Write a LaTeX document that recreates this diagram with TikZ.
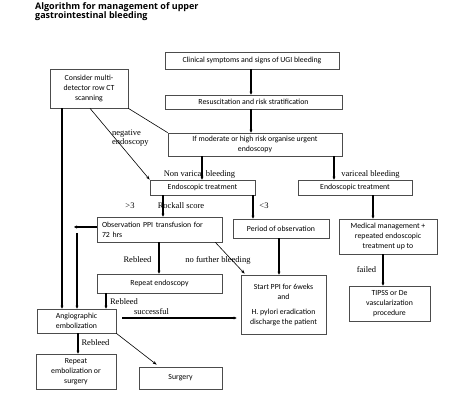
\documentclass[tikz,border=0pt]{standalone}
\usepackage{fontspec}
\setmainfont{Liberation Serif}
\newfontfamily\boxfont{Carlito}
\newfontfamily\headfont{Open Sans}
\usetikzlibrary{arrows.meta}
\tikzset{
    mybox/.style = {draw=black!70, line width=0.7pt, align=center, inner sep=0pt, font=\boxfont\fontsize{7.8}{10}\selectfont},
    myboxl/.style = {mybox, align=left},
    mylabel/.style = {inner sep=0pt, font=\fontsize{8.5}{9.5}\selectfont},
    edgek/.style = {-{Stealth[length=3pt,width=3pt]}, line width=1.6pt, black},
    edgen/.style = {-{Stealth[length=4pt,width=3pt]}, line width=0.6pt, black},
    edgep/.style = {-, line width=0.6pt, black},
}

\begin{document}
\begin{tikzpicture}[x=1pt,y=-1pt]
\path[fill=white] (0,0) rectangle (474,406);
\useasboundingbox (0,0) rectangle (474,406);

\node[anchor=north west, align=left, inner sep=0pt, font=\headfont\bfseries\fontsize{9}{9.2}\selectfont] at (35,2.5) (title) {Algorithm for management of upper\\gastrointestinal bleeding};

\node[mybox, minimum width=174pt, minimum height=17pt] at (252.0,  60.5) (clin) {Clinical symptoms and signs of UGI bleeding};
\node[mybox, minimum width=78pt,  minimum height=39pt] at ( 89.0,  88.5) (cons) {Consider multi-\\detector row CT\\scanning};
\node[mybox, minimum width=177pt, minimum height=14pt] at (253.5, 102.0) (resus) {Resuscitation and risk stratification};
\node[mybox, minimum width=174pt, minimum height=23pt] at (255.0, 144.5) (mod) {If moderate or high risk organise urgent\\endoscopy};
\node[mybox, minimum width=105pt, minimum height=15pt] at (202.5, 187.5) (endoL) {Endoscopic treatment};
\node[mybox, minimum width=114pt, minimum height=15pt] at (355.0, 187.5) (endoR) {Endoscopic treatment};
\node[myboxl, minimum width=125pt, minimum height=25pt, text width=115pt] at (159.5, 229.5) (obs) {Observation PPI transfusion for\\72 hrs};
\node[mybox, minimum width=96pt,  minimum height=19pt] at (281.0, 228.5) (period) {Period of observation};
\node[mybox, minimum width=98pt,  minimum height=35pt] at (388.0, 236.5) (med) {Medical management +\\repeated endoscopic\\treatment up to};
\node[mybox, minimum width=125pt, minimum height=19pt] at (159.5, 283.5) (rep) {Repeat endoscopy};
\node[mybox, minimum width=85pt,  minimum height=59pt] at (283.5, 304.5) (ppi) {Start PPI for 6weks\\and\\[5pt]H. pylori eradication\\discharge the patient};
\node[mybox, minimum width=81pt,  minimum height=35pt] at (389.5, 303.5) (tipss) {TIPSS or De\\vascularization\\procedure};
\node[mybox, minimum width=79pt,  minimum height=24pt] at ( 76.5, 321.0) (angio) {Angiographic\\embolization};
\node[mybox, minimum width=80pt,  minimum height=35pt] at ( 76.0, 371.5) (repemb) {Repeat\\embolization or\\surgery};
\node[mybox, minimum width=83pt,  minimum height=22pt] at (180.5, 378.0) (surg) {Surgery};

% labels
\node[mylabel, anchor=west, align=left] at (112.0, 138.0) (neg) {negative\\endoscopy};
\node[mylabel] at (199.5, 174.0) (nonvar) {Non varical bleeding};
\node[mylabel] at (370.5, 174.0) (var) {variceal bleeding};
\node[mylabel] at (130.0, 206.0) (gt) {>3};
\node[mylabel] at (181.0, 206.0) (rock) {Rockall score};
\node[mylabel] at (264.0, 206.0) (lt) {<3};
\node[mylabel] at (137.5, 260.0) (reba) {Rebleed};
\node[mylabel] at (218.0, 260.0) (nofur) {no further bleeding};
\node[mylabel] at (366.5, 270.0) (failed) {failed};
\node[mylabel] at (124.0, 302.0) (rebb) {Rebleed};
\node[mylabel] at (151.5, 312.0) (succ) {successful};
\node[mylabel] at ( 95.5, 343.0) (rebc) {Rebleed};

\coordinate (obsl) at (74,227);
\coordinate (obsd) at (77,233);

\draw[edgek] (251,0 |- clin.south) -- (251,0 |- resus.north);
\draw[edgek] (251,0 |- resus.south) -- (251,0 |- mod.north);
\draw[edgep] (cons.south east) -- (mod.north west);
\draw[edgen] ([xshift=1pt]cons.south) -- (endoL.north west);
\draw[edgek] (62,0 |- cons.south) -- (62,0 |- angio.north);
\draw[edgek] (202,0 |- mod.south) -- (202,0 |- endoL.north);
\draw[edgek] (334,0 |- mod.south) -- (334,0 |- endoR.north);
\draw[edgek] (163,0 |- endoL.south) -- (163,0 |- obs.north);
\draw[edgek] (253,0 |- endoL.south) -- (253,0 |- period.north);
\draw[edgek] (373,0 |- endoR.south) -- (373,0 |- med.north);
\draw[edgek] (obsl -| obs.west) -- (obsl);
\draw[edgek] (obsd) -- (obsd |- angio.north);
\draw[edgek] (159,0 |- obs.south) -- (159,0 |- rep.north);
\draw[edgen] ([xshift=-7pt]obs.south east) -- ([xshift=4pt,yshift=1pt]ppi.north west);
\draw[edgek] (279,0 |- period.south) -- (279,0 |- ppi.north);
\draw[edgek] (383,0 |- med.south) -- (383,0 |- tipss.north);
\draw[edgek] (106,0 |- rep.south) -- (106,0 |- angio.north);
\draw[edgek, shorten <=6pt, shorten >=4pt] (angio.east |- 0,318) -- (ppi.west |- 0,318);
\draw[edgek] (78,0 |- angio.south) -- (78,0 |- repemb.north);
\draw[edgen] (angio.south east) -- ([xshift=18pt,yshift=2pt]surg.north west);

\end{tikzpicture}
\end{document}
